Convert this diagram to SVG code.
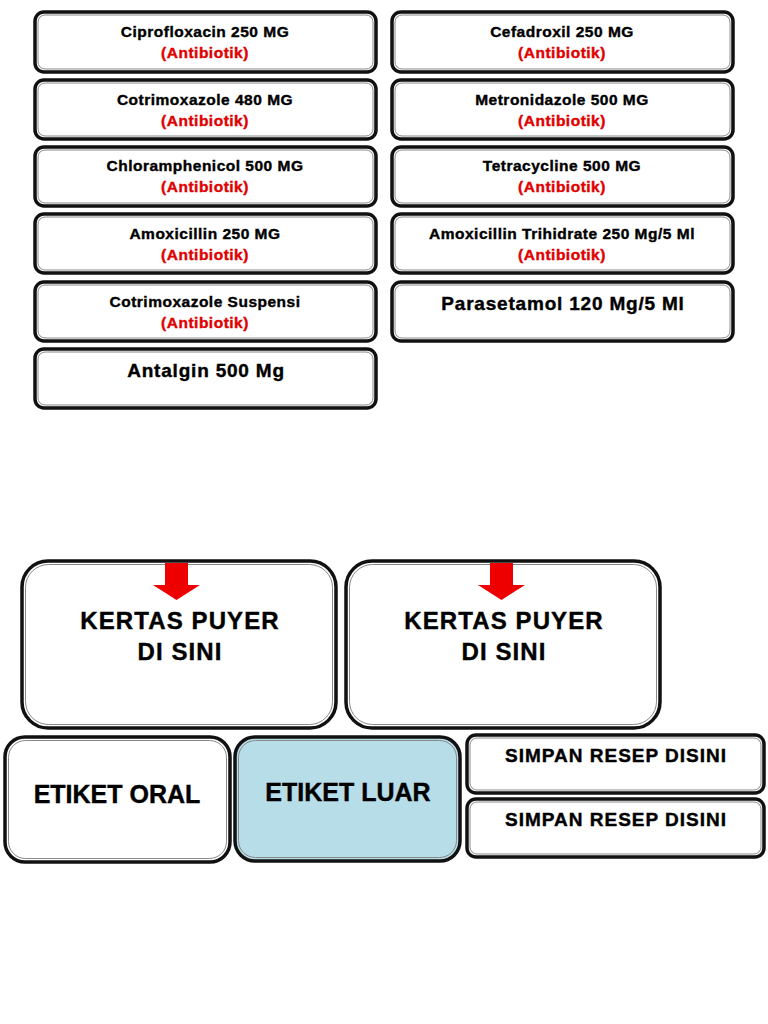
<svg xmlns="http://www.w3.org/2000/svg" width="768" height="1024" viewBox="0 0 768 1024">
<style>
.o{fill:#fff;stroke:#111;stroke-width:3.5}
.i{fill:none;stroke:#888;stroke-width:1}
.t{font-family:"Liberation Sans",Arial,sans-serif;font-weight:bold;text-anchor:middle;fill:#000;stroke:#000;stroke-width:.4}
.s{font-size:15.5px;letter-spacing:.5px}
.r{fill:#e00000;stroke:#e00000}
.m{font-size:19px;letter-spacing:.8px}
.b{font-size:24px;letter-spacing:1.1px}
.e{font-size:25px}
.p{font-size:19px;letter-spacing:1px}
.ar{fill:#ee0000}
</style>
<rect width="768" height="1024" fill="#fff"/>
<g id="cipro"><rect class="o" x="35" y="12" width="341" height="60" rx="9"/><rect class="i" x="38" y="15" width="335" height="54" rx="7"/><text class="t s" x="205" y="36.5">Ciprofloxacin 250 MG</text><text class="t s r" x="205" y="58">(Antibiotik)</text></g>
<g id="cefa"><rect class="o" x="392" y="12" width="341" height="60" rx="9"/><rect class="i" x="395" y="15" width="335" height="54" rx="7"/><text class="t s" x="562" y="36.5">Cefadroxil 250 MG</text><text class="t s r" x="562" y="58">(Antibiotik)</text></g>
<g id="cotri480"><rect class="o" x="35" y="80" width="341" height="59" rx="9"/><rect class="i" x="38" y="83" width="335" height="53" rx="7"/><text class="t s" x="205" y="104.5">Cotrimoxazole 480 MG</text><text class="t s r" x="205" y="126">(Antibiotik)</text></g>
<g id="metro"><rect class="o" x="392" y="80" width="341" height="59" rx="9"/><rect class="i" x="395" y="83" width="335" height="53" rx="7"/><text class="t s" x="562" y="104.5">Metronidazole 500 MG</text><text class="t s r" x="562" y="126">(Antibiotik)</text></g>
<g id="chlor"><rect class="o" x="35" y="147" width="341" height="59" rx="9"/><rect class="i" x="38" y="150" width="335" height="53" rx="7"/><text class="t s" x="205" y="170.5">Chloramphenicol 500 MG</text><text class="t s r" x="205" y="192">(Antibiotik)</text></g>
<g id="tetra"><rect class="o" x="392" y="147" width="341" height="59" rx="9"/><rect class="i" x="395" y="150" width="335" height="53" rx="7"/><text class="t s" x="562" y="170.5">Tetracycline 500 MG</text><text class="t s r" x="562" y="192">(Antibiotik)</text></g>
<g id="amox"><rect class="o" x="35" y="214" width="341" height="59" rx="9"/><rect class="i" x="38" y="217" width="335" height="53" rx="7"/><text class="t s" x="205" y="238.5">Amoxicillin 250 MG</text><text class="t s r" x="205" y="260">(Antibiotik)</text></g>
<g id="amoxtri"><rect class="o" x="392" y="214" width="341" height="59" rx="9"/><rect class="i" x="395" y="217" width="335" height="53" rx="7"/><text class="t s" x="562" y="238.5">Amoxicillin Trihidrate 250 Mg/5 Ml</text><text class="t s r" x="562" y="260">(Antibiotik)</text></g>
<g id="cotrisusp"><rect class="o" x="35" y="282" width="341" height="59" rx="9"/><rect class="i" x="38" y="285" width="335" height="53" rx="7"/><text class="t s" x="205" y="306.5">Cotrimoxazole Suspensi</text><text class="t s r" x="205" y="328">(Antibiotik)</text></g>
<g id="paras"><rect class="o" x="392" y="282" width="341" height="59" rx="9"/><rect class="i" x="395" y="285" width="335" height="53" rx="7"/><text class="t m" x="563" y="310">Parasetamol 120 Mg/5 Ml</text></g>
<g id="antalgin"><rect class="o" x="35" y="349" width="341" height="59" rx="9"/><rect class="i" x="38" y="352" width="335" height="53" rx="7"/><text class="t m" x="206" y="377">Antalgin 500 Mg</text></g>
<g id="puyer1"><rect class="o" x="22" y="561" width="314" height="167" rx="26"/><rect class="i" x="25.5" y="564.5" width="307" height="160" rx="23"/><polygon class="ar" points="165,563 188,563 188,585 200,585 176.5,600 153,585 165,585"/><text class="t b" x="180" y="629">KERTAS PUYER</text><text class="t b" x="180" y="660">DI SINI</text></g>
<g id="puyer2"><rect class="o" x="346" y="561" width="314" height="167" rx="26"/><rect class="i" x="349.5" y="564.5" width="307" height="160" rx="23"/><polygon class="ar" points="490,563 513,563 513,585 525,585 501.5,600 478,585 490,585"/><text class="t b" x="504" y="629">KERTAS PUYER</text><text class="t b" x="504" y="660">DI SINI</text></g>
<g id="oral"><rect class="o" x="5" y="737" width="225" height="125" rx="20"/><rect class="i" x="8.5" y="740.5" width="218" height="118" rx="17"/><text class="t e" x="117" y="803">ETIKET ORAL</text></g>
<g id="luar"><rect class="o" x="235" y="737" width="225" height="124" rx="20" style="fill:#b7dde8"/><rect class="i" x="238.5" y="740.5" width="218" height="117" rx="17"/><text class="t e" x="348" y="801">ETIKET LUAR</text></g>
<g id="resep1"><rect class="o" x="467" y="735" width="297" height="58" rx="9"/><rect class="i" x="470" y="738" width="291" height="52" rx="7"/><text class="t p" x="616" y="762">SIMPAN RESEP DISINI</text></g>
<g id="resep2"><rect class="o" x="467" y="799" width="297" height="58" rx="9"/><rect class="i" x="470" y="802" width="291" height="52" rx="7"/><text class="t p" x="616" y="826">SIMPAN RESEP DISINI</text></g>
<g id="connectors"></g>
</svg>
